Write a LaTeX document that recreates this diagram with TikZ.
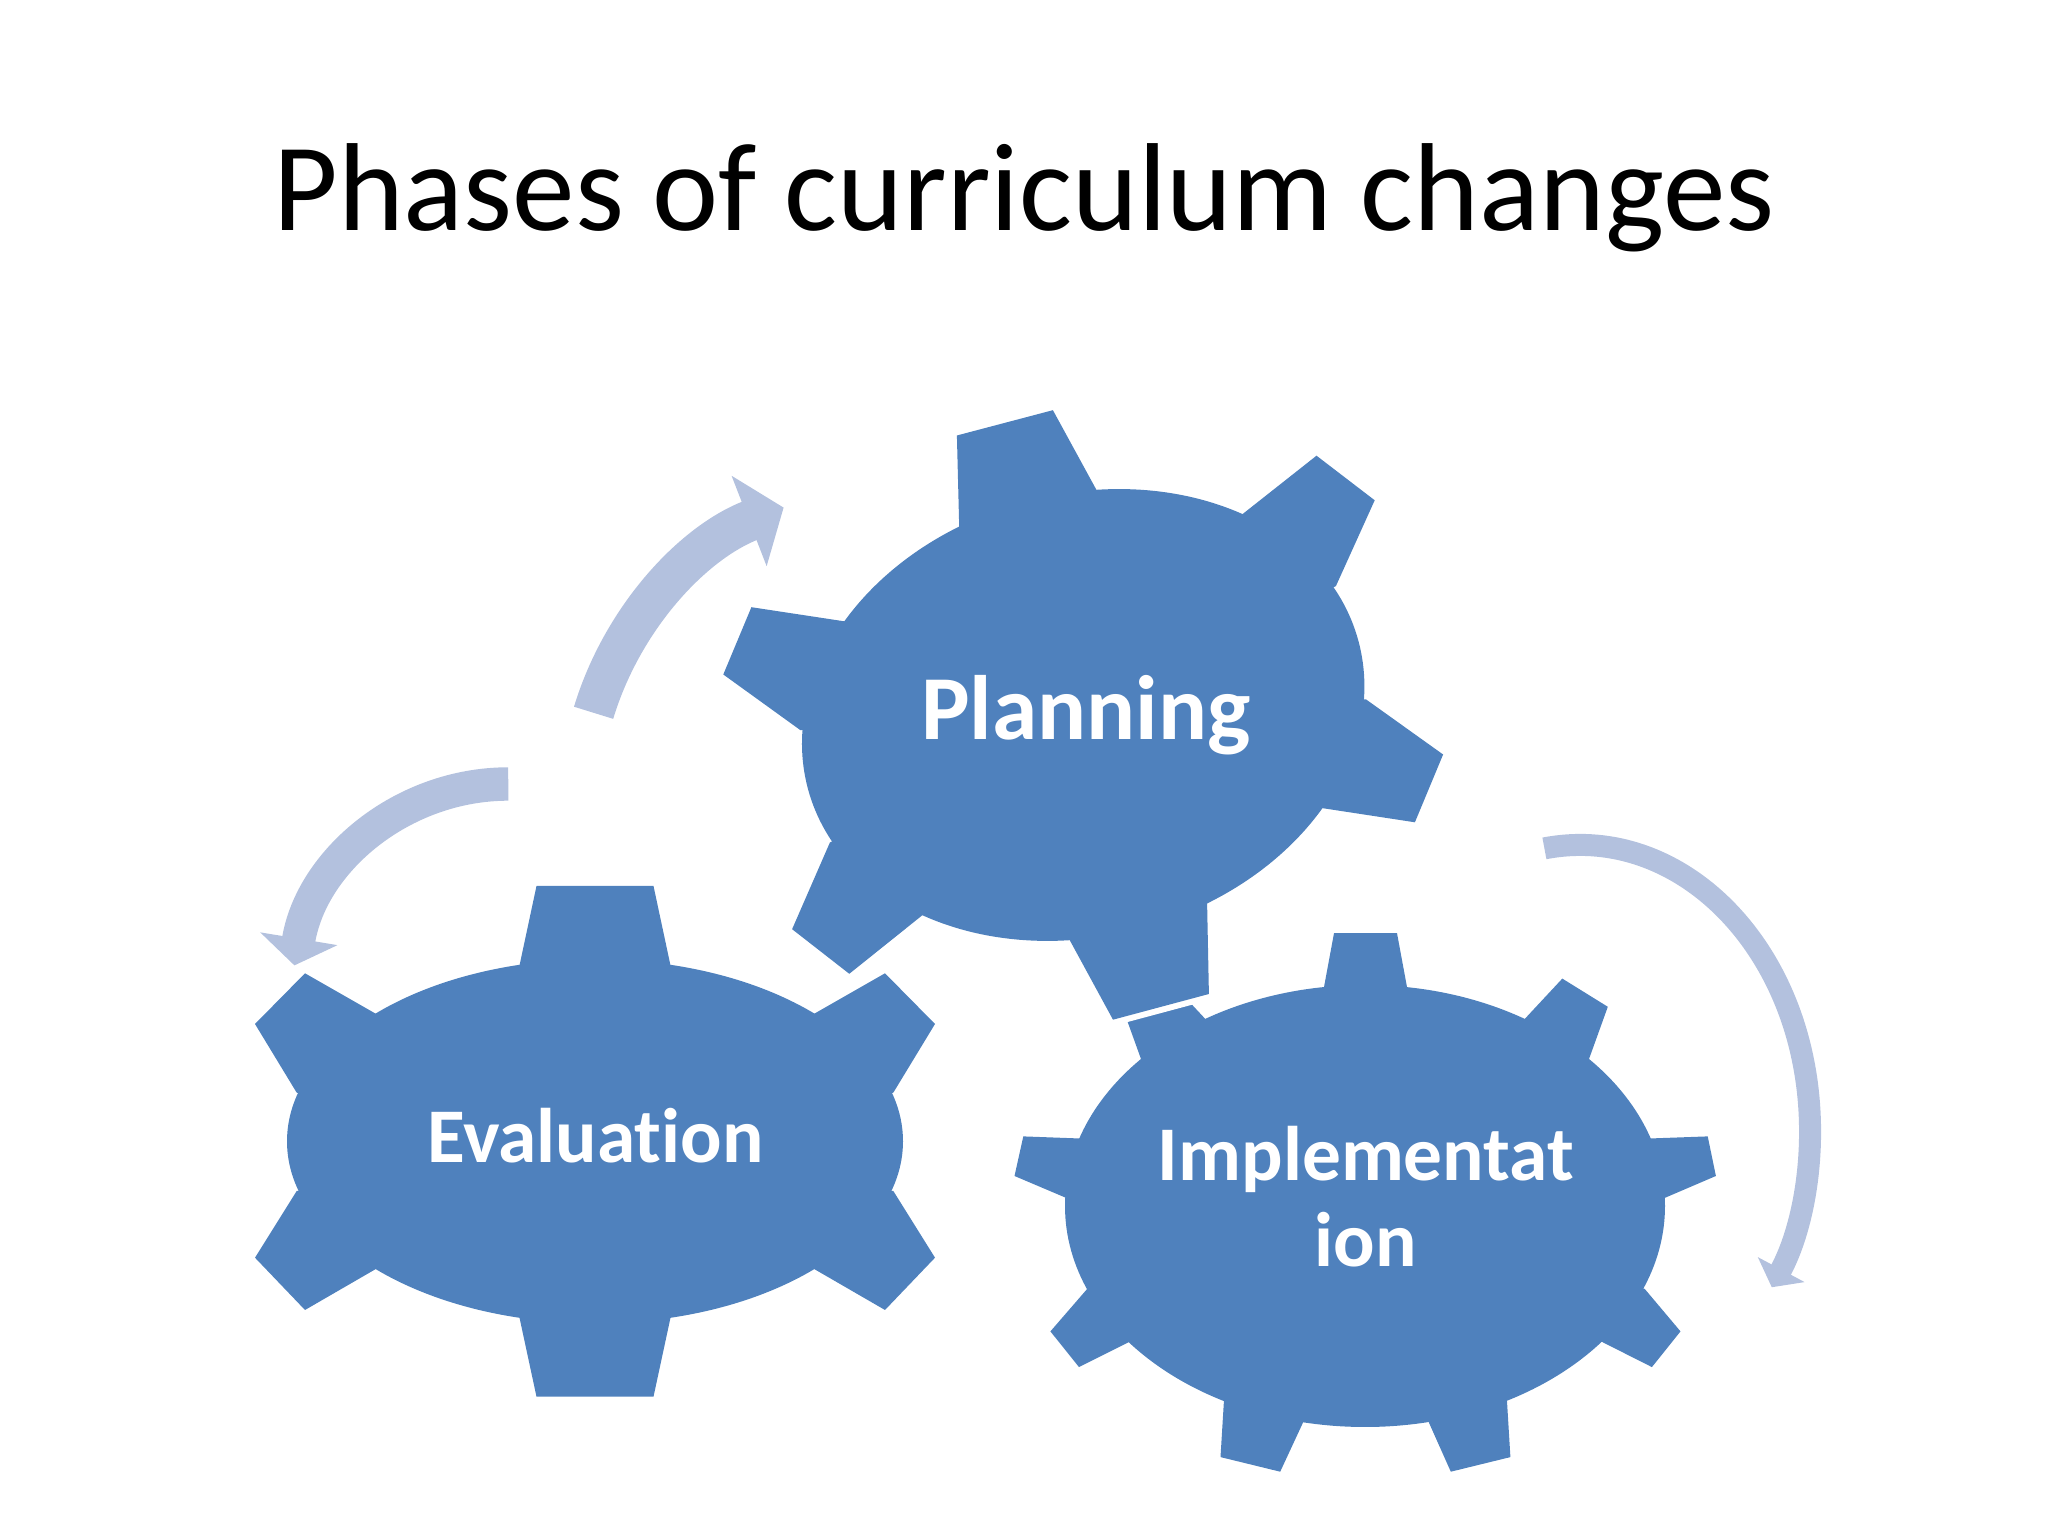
\documentclass[tikz,border=0pt]{standalone}
\usepackage{fontspec}
\setmainfont{Carlito}[Ligatures=NoCommon]
\usetikzlibrary{arrows.meta}
\definecolor{gearblue}{RGB}{79,129,189}
\definecolor{arrowblue}{RGB}{179,193,222}
\begin{document}
\begin{tikzpicture}[x=0.01cm,y=0.01cm,
  gear/.style={fill=gearblue},
  gearhalo/.style={draw=white,line width=0.12cm},
  cyclearrow/.style={draw=arrowblue,line width=#1},
  gearlabel/.style={text=white,anchor=base,font=\bfseries\fontsize{22}{24.3}\selectfont}]
\useasboundingbox (0,0) rectangle (2048,1536);
\node[anchor=base,font=\fontsize{35.6}{40}\selectfont] (title) at (1024,1305) {Phases of curriculum changes};
% Evaluation
\coordinate (ec) at (595,394.7);
\fill[gear] (ec) ellipse [x radius=308, y radius=182];
\fill[gear] (ec) -- (519.5,570.5) -- (536.5,650) -- (653.5,650) -- (670.5,570.5) -- cycle;
\fill[gear] (ec) -- (815,522.7) -- (885,562.7) -- (935,512) -- (893.3,443.3) -- cycle;
\fill[gear] (ec) -- (893.3,345) -- (935,278.3) -- (885,226) -- (815,266.5) -- cycle;
\fill[gear] (ec) -- (670.5,218.3) -- (653.5,139.3) -- (536.5,139.3) -- (519.5,218.3) -- cycle;
\fill[gear] (ec) -- (375,266.5) -- (305,226) -- (255,278.3) -- (296.7,345) -- cycle;
\fill[gear] (ec) -- (296.7,443.3) -- (255,512) -- (305,562.7) -- (375,522.7) -- cycle;
% Implementation
\coordinate (ic) at (1365,330);
\fill[gear] (ic) ellipse [x radius=300, y radius=221];
\fill[gear] (ic) -- (1324,548.9) -- (1334,602.8) -- (1397,602.8) -- (1407,548.9) -- cycle;
\fill[gear] (ic) -- (1524.4,516.7) -- (1562.3,557.4) -- (1607.8,529.2) -- (1588.9,476.7) -- cycle;
\fill[gear] (ic) -- (1649.5,397.5) -- (1707.7,399.6) -- (1715.9,360) -- (1665,338.2) -- cycle;
\fill[gear] (ic) -- (1644.7,247.1) -- (1680.5,204.6) -- (1651.9,168.9) -- (1603,193.6) -- cycle;
\fill[gear] (ic) -- (1507,134.6) -- (1510.4,78.9) -- (1450.8,64.3) -- (1429,113.2) -- cycle;
\fill[gear] (ic) -- (1302.9,113.2) -- (1280.2,64.3) -- (1220.5,78.9) -- (1223.9,134.6) -- cycle;
\fill[gear] (ic) -- (1128.4,193.6) -- (1079,168.9) -- (1050.4,204.6) -- (1087.2,247.1) -- cycle;
\fill[gear] (ic) -- (1065.9,338.2) -- (1014.5,360) -- (1023.3,399.6) -- (1080,397.5) -- cycle;
\fill[gear] (ic) -- (1141.1,476.7) -- (1122.2,529.2) -- (1167.7,557.4) -- (1205.6,516.7) -- cycle;
% Planning, with a white rim over its neighbour
\coordinate (pc) at (1083.2,821);
\draw[gearhalo] (pc) -- (1207,638) -- (1208.9,542) -- (1113,516.3) -- (1067.4,600.1) -- cycle;
\fill[gear, rotate around={15:(pc)}] (pc) ellipse [x radius=285, y radius=221];
\fill[gear] (pc) -- (959.3,1004.6) -- (956.9,1100.5) -- (1052.9,1125.8) -- (1098.4,1042.5) -- cycle;
\fill[gear] (pc) -- (1241.9,1021.4) -- (1316.5,1080.3) -- (1374.7,1035.7) -- (1335.9,949.9) -- cycle;
\fill[gear] (pc) -- (1366,836.6) -- (1443.1,781.5) -- (1414.9,713.7) -- (1321.4,728) -- cycle;
\fill[gear] (pc) -- (1207,638) -- (1208.9,542) -- (1113,516.3) -- (1067.4,600.1) -- cycle;
\fill[gear] (pc) -- (923.9,622) -- (849.3,562.2) -- (792.1,606.8) -- (829.9,693.5) -- cycle;
\fill[gear] (pc) -- (800.3,805.9) -- (723.3,861.5) -- (751.4,928.8) -- (845.4,914.5) -- cycle;
% labels
\node[gearlabel, font=\bfseries\fontsize{26}{28}\selectfont] (plan) at (1085.9,796.7) {Planning};
\node[gearlabel] (eval) at (595.5,373.7) {Evaluation};
\node[gearlabel, align=center] (impl) at (1366,269.6) {Implementat\\ion};
% arrows round the gears
\coordinate (a1) at (593.6,823.2);
\draw[cyclearrow=0.41cm, -{Triangle[length=0.37cm,width=0.95cm]}] (a1) arc[start angle=163.2, end angle=111.2, radius=319];
\coordinate (a2) at (508.3,752);
\draw[cyclearrow=0.334cm, -{Triangle[length=0.27cm,width=0.77cm]}] (a2) arc[start angle=90, end angle=170.6, radius=216.8];
\coordinate (a3) at (1544.4,687.6);
\draw[cyclearrow=0.22cm, -{Triangle[length=0.2cm,width=0.52cm]}] (a3) arc[start angle=98.9, end angle=-33.5, x radius=230, y radius=285];
\end{tikzpicture}
\end{document}
